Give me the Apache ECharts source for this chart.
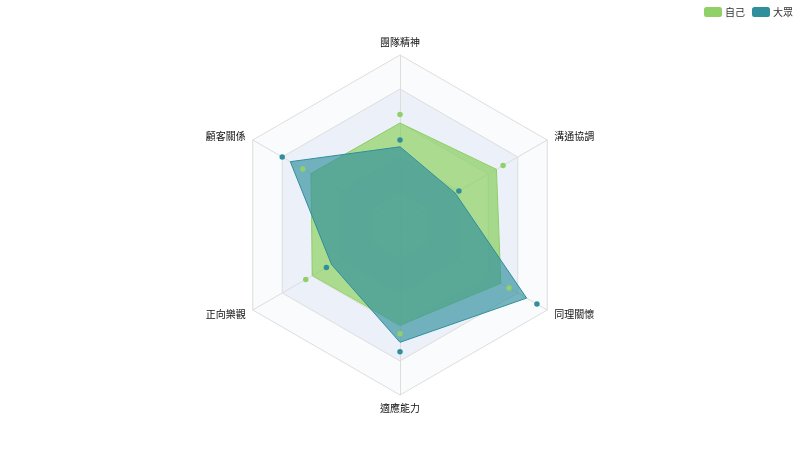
<!DOCTYPE html>
<html><head><meta charset="utf-8">
<script src="https://cdn.jsdelivr.net/npm/echarts@6/dist/echarts.min.js"></script>
<style>html,body{margin:0;padding:0;background:#fff}#c{width:800px;height:450px}</style>
</head><body><div id="c"></div>
<script>
// Indicator order follows ECharts radar: top, then counter-clockwise
const indicators = ['團隊精神', '顧客關係', '正向樂觀', '適應能力', '同理關懷', '溝通協調'];
const maxValue = 100;
const seriesNames = ['自己', '大眾'];
// filled shapes as drawn
const selfArea = [60, 60.5, 59.5, 59, 68.5, 65.5];
const publicArea = [46, 74.5, 46.5, 69, 86, 37.5];
// marker dots as drawn
const selfDots = [65, 66, 64, 64, 74, 70];
const publicDots = [50, 80, 50, 74.5, 93, 40];

const green = '#8fd068';
const teal = '#2f8f9c';
const font = '"Noto Sans CJK TC", "Noto Sans", sans-serif';

function areaSeries(name, vals, color, opacity) {
  return {
    type: 'radar', name: name, color: color, symbol: 'none',
    lineStyle: { color: color, width: 1 },
    areaStyle: { color: color, opacity: opacity },
    data: [{ value: vals, name: name }]
  };
}
function dotSeries(name, vals, color) {
  return {
    type: 'radar', name: name, color: color, symbol: 'circle', symbolSize: 5.5,
    itemStyle: { color: color },
    lineStyle: { width: 0, opacity: 0 },
    data: [{ value: vals, name: name }]
  };
}

const chart = echarts.init(document.getElementById('c'));
chart.setOption({
  animation: false,
  legend: {
    data: seriesNames, right: 2, top: 2, itemWidth: 18, itemHeight: 10, itemGap: 7,
    icon: 'roundRect',
    textStyle: { fontSize: 10, color: '#333', fontFamily: font, padding: [0, 0, 0, -2] }
  },
  radar: {
    center: ['50%', '50%'], radius: 170, splitNumber: 5, nameGap: 8,
    indicator: indicators.map(n => ({ name: n, max: maxValue })),
    axisName: { color: '#111', fontSize: 10, fontFamily: font },
    axisLine: { lineStyle: { color: '#dddddd' } },
    splitLine: { lineStyle: { color: '#dddddd' } },
    splitArea: { areaStyle: { color: ['rgba(250,251,253,1)', 'rgba(236,240,248,1)'] } }
  },
  series: [
    areaSeries(seriesNames[0], selfArea, green, 0.75),
    areaSeries(seriesNames[1], publicArea, teal, 0.65),
    dotSeries(seriesNames[0], selfDots, green),
    dotSeries(seriesNames[1], publicDots, teal)
  ]
});
</script></body></html>
